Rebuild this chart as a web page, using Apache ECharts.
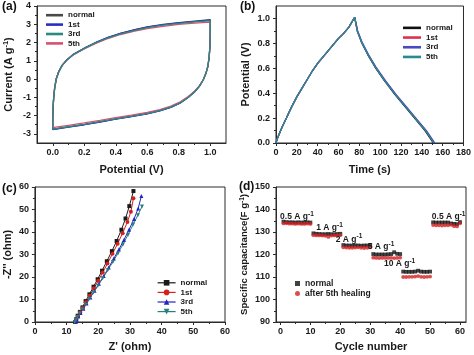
<!DOCTYPE html>
<html><head><meta charset="utf-8">
<script src="https://cdn.jsdelivr.net/npm/echarts@6/dist/echarts.min.js"></script>
<style>html,body{margin:0;padding:0;background:#fff}#c{width:474px;height:355px}</style>
</head><body><div id="c"></div><script>
// ---------- data ----------
const seriesNames = ['normal', '1st', '3rd', '5th'];
const healNames = ['normal', 'after 5th healing'];

// (a) cyclic voltammetry: [potential V, current A/g], anodic then cathodic sweep
const cvNormal = [[0,-2.76],[0,-2.2],[0.002,-1.6],[0.006,-1.0],[0.012,-0.5],[0.022,0.0],[0.038,0.4],[0.06,0.75],[0.09,1.05],[0.13,1.34],[0.2,1.68],[0.27,1.98],[0.35,2.27],[0.43,2.5],[0.52,2.7],[0.6,2.85],[0.7,2.99],[0.8,3.09],[0.9,3.17],[1.0,3.25],[1.0,2.5],[0.998,1.8],[0.993,1.2],[0.985,0.7],[0.972,0.3],[0.955,-0.05],[0.93,-0.4],[0.9,-0.7],[0.86,-1.0],[0.81,-1.3],[0.75,-1.54],[0.68,-1.73],[0.6,-1.89],[0.5,-2.04],[0.4,-2.18],[0.3,-2.34],[0.2,-2.49],[0.1,-2.62],[0.03,-2.71],[0,-2.76]];
const cv1st = [[0,-2.77],[0,-2.2],[0.002,-1.6],[0.006,-1.0],[0.012,-0.5],[0.022,0.0],[0.038,0.41],[0.06,0.76],[0.09,1.06],[0.13,1.35],[0.2,1.69],[0.27,1.99],[0.35,2.28],[0.43,2.5],[0.52,2.69],[0.6,2.84],[0.7,2.97],[0.8,3.07],[0.9,3.15],[1.0,3.22],[1.0,2.5],[0.998,1.8],[0.993,1.2],[0.985,0.7],[0.972,0.3],[0.955,-0.05],[0.93,-0.41],[0.9,-0.71],[0.86,-1.01],[0.81,-1.31],[0.75,-1.55],[0.68,-1.74],[0.6,-1.9],[0.5,-2.05],[0.4,-2.19],[0.3,-2.35],[0.2,-2.5],[0.1,-2.63],[0.03,-2.72],[0,-2.77]];
const cv3rd = [[0,-2.75],[0,-2.2],[0.002,-1.6],[0.006,-1.0],[0.012,-0.5],[0.022,0.0],[0.038,0.4],[0.06,0.75],[0.09,1.05],[0.13,1.34],[0.2,1.68],[0.27,1.98],[0.35,2.26],[0.43,2.48],[0.52,2.67],[0.6,2.82],[0.7,2.95],[0.8,3.05],[0.9,3.13],[1.0,3.2],[1.0,2.5],[0.998,1.8],[0.993,1.2],[0.985,0.7],[0.972,0.3],[0.955,-0.05],[0.93,-0.4],[0.9,-0.7],[0.86,-1.0],[0.81,-1.3],[0.75,-1.54],[0.68,-1.73],[0.6,-1.89],[0.5,-2.04],[0.4,-2.18],[0.3,-2.33],[0.2,-2.48],[0.1,-2.61],[0.03,-2.7],[0,-2.75]];
const cv5th = [[0,-2.66],[0,-2.15],[0.002,-1.58],[0.006,-1.0],[0.012,-0.5],[0.022,0.0],[0.038,0.4],[0.06,0.74],[0.09,1.04],[0.13,1.32],[0.2,1.65],[0.27,1.94],[0.35,2.22],[0.43,2.44],[0.52,2.62],[0.6,2.76],[0.7,2.89],[0.8,2.99],[0.9,3.06],[1.0,3.12],[1.0,2.45],[0.998,1.78],[0.993,1.18],[0.985,0.69],[0.972,0.3],[0.955,-0.04],[0.93,-0.38],[0.9,-0.67],[0.86,-0.96],[0.81,-1.25],[0.75,-1.48],[0.68,-1.67],[0.6,-1.82],[0.5,-1.97],[0.4,-2.11],[0.3,-2.26],[0.2,-2.4],[0.1,-2.53],[0.03,-2.62],[0,-2.66]];

// (b) galvanostatic charge/discharge: [time s, potential V]
const gcdNormal = [[0,0],[1,0.03],[3,0.07],[6,0.13],[10,0.2],[15,0.29],[20,0.37],[25,0.44],[30,0.51],[35,0.58],[40,0.64],[45,0.69],[50,0.74],[55,0.79],[60,0.84],[65,0.88],[70,0.93],[75.5,1.01],[76,1.01],[76.6,0.96],[78,0.9],[80,0.855],[82,0.81],[88,0.71],[95,0.61],[104,0.5],[114,0.39],[124,0.29],[134,0.19],[143,0.1],[151,0.0]];
const gcd1st = [[0,0],[1,0.03],[3,0.07],[6,0.13],[10,0.2],[15,0.29],[20,0.37],[25,0.44],[30,0.51],[35,0.58],[40,0.64],[45,0.69],[50,0.74],[55,0.79],[60,0.84],[65,0.88],[70,0.93],[75.5,1.01],[76,1.01],[76.7,0.96],[78.2,0.9],[80.2,0.855],[82.3,0.81],[88.4,0.71],[95.5,0.61],[104.6,0.5],[114.7,0.39],[124.8,0.29],[134.8,0.19],[143.9,0.1],[152,0.0]];
const gcd3rd = [[0,0],[1,0.03],[3,0.07],[6,0.13],[10,0.2],[15,0.29],[20,0.37],[25,0.44],[30,0.51],[35,0.58],[40,0.64],[45,0.69],[50,0.74],[55,0.79],[60,0.84],[65,0.88],[70,0.93],[75.5,1.01],[76.2,1.01],[76.9,0.96],[78.4,0.9],[80.5,0.855],[82.6,0.81],[88.8,0.71],[96,0.61],[105.1,0.5],[115.2,0.39],[125.3,0.29],[135.3,0.19],[144.4,0.1],[152.5,0.0]];
const gcd5th = [[0,0],[1,0.03],[3,0.07],[6,0.13],[10,0.2],[15,0.29],[20,0.37],[25,0.44],[30,0.51],[35,0.58],[40,0.64],[45,0.69],[50,0.74],[55,0.79],[60,0.84],[65,0.88],[70,0.93],[75.5,1.01],[76,1.01],[76.6,0.96],[78.1,0.9],[80.1,0.855],[82.1,0.81],[88.2,0.71],[95.3,0.61],[104.3,0.5],[114.4,0.39],[124.4,0.29],[134.4,0.19],[143.5,0.1],[151.5,0.0]];

// (c) Nyquist plot: [Z' ohm, -Z'' ohm]
const eisNormal = [[12.7,0],[13.0,1.2],[13.5,2.8],[14.2,4.5],[15.0,6.5],[16.0,9.3],[17.2,12.3],[18.5,15.7],[19.8,19],[21.2,22.8],[22.7,27],[24.3,31.5],[25.8,36],[27.3,41],[28.6,46],[29.8,51.5],[31.1,58.2]];
const eis1st = [[12.8,0],[13.1,1.1],[13.6,2.6],[14.3,4.3],[15.1,6.2],[16.1,8.8],[17.3,11.7],[18.6,15],[20.0,18.3],[21.4,22],[22.9,26],[24.5,30.3],[26.1,34.8],[27.7,39.5],[29.2,44.5],[30.3,49],[31.1,55]];
const eis3rd = [[12.9,0],[13.2,1],[13.7,2.4],[14.4,4],[15.3,5.9],[16.3,8.2],[17.5,10.9],[18.8,13.9],[20.2,17],[21.7,20.4],[23.3,24.2],[24.9,28.2],[26.5,32.2],[28.1,36.5],[29.7,41],[31.3,45.8],[32.6,50.5],[33.6,56]];
const eis5th = [[12.6,0],[12.9,0.9],[13.4,2.2],[14.1,3.8],[15.0,5.6],[16.0,7.8],[17.2,10.3],[18.5,13.1],[19.9,16.1],[21.4,19.4],[23.0,23],[24.6,26.7],[26.2,30.5],[27.8,34.5],[29.4,38.8],[31.0,43.3],[32.5,47.5],[33.8,51.3]];

// (d) rate capability
const cycles = [1,2,3,4,5,6,7,8,9,10,11,12,13,14,15,16,17,18,19,20,21,22,23,24,25,26,27,28,29,30,31,32,33,34,35,36,37,38,39,40,41,42,43,44,45,46,47,48,49,50,51,52,53,54,55,56,57,58,59,60];
const capNormal = [134.6,134.4,134.3,134.3,134.2,134.3,134.2,134.2,134.3,134.2,
  129.4,129.2,129.1,129.0,129.0,129.1,129.0,129.0,129.1,129.2,
  124.2,124.0,124.0,123.9,124.0,124.0,123.9,124.0,124.0,124.1,
  120.2,120.0,120.0,120.0,120.0,120.1,120.2,121.0,120.3,120.2,
  112.4,112.3,112.3,112.3,112.4,112.8,112.4,112.3,112.3,112.4,
  134.3,134.2,134.2,134.2,134.2,134.2,133.8,133.6,133.5,134.4];
const capHealed = [133.8,133.9,133.7,133.7,133.6,133.7,133.6,133.6,133.7,133.6,
  128.6,128.5,128.5,128.4,128.3,127.8,128.4,128.5,128.5,128.6,
  123.2,123.1,123.0,123.0,123.1,123.2,123.0,122.9,123.0,123.2,
  118.6,118.5,118.4,118.5,118.5,118.5,118.5,118.4,118.5,118.6,
  110.0,110.0,110.1,110.1,110.2,110.4,110.1,110.0,110.1,110.2,
  133.1,133.0,133.0,132.9,133.0,133.0,133.2,132.6,132.5,133.8];
const rateLabels = ['0.5', '1', '2', '5', '10', '0.5'];

// tick labels
const ticksAx = [0, 0.2, 0.4, 0.6, 0.8, 1.0];
const ticksAy = [-3, -2, -1, 0, 1, 2, 3, 4];
const ticksBx = [0, 20, 40, 60, 80, 100, 120, 140, 160, 180];
const ticksBy = [0, 0.2, 0.4, 0.6, 0.8, 1.0];
const ticksC = [0, 10, 20, 30, 40, 50, 60];
const ticksDx = [0, 10, 20, 30, 40, 50, 60];
const ticksDy = [90, 100, 110, 120, 130, 140, 150];
const minorAx = [0.1, 0.3, 0.5, 0.7, 0.9];
const minorAy = [-2.5, -1.5, -0.5, 0.5, 1.5, 2.5, 3.5];
const minorBx = [10, 30, 50, 70, 90, 110, 130, 150, 170];
const minorBy = [0.1, 0.3, 0.5, 0.7, 0.9];
const minorC = [5, 15, 25, 35, 45, 55];
const minorDy = [95, 105, 115, 125, 135, 145];

// ---------- styling / layout ----------
const FF = '"Liberation Sans", Arial, sans-serif';
const AX = '#2b2b2b';
const TXT = '#1a1a1a';

function mkAxes(dim, gi, min, max, major, minor, fmt, name, gap, nameSize) {
  const pos = dim === 'x' ? 'bottom' : 'left';
  const ns = nameSize || 11;
  const main = {
    type: 'value', gridIndex: gi, position: pos, min: min, max: max,
    axisLine: {show: true, onZero: false, lineStyle: {color: AX, width: 1}},
    axisTick: {show: true, inside: false, length: 3, customValues: major, lineStyle: {color: AX, width: 1}},
    axisLabel: {show: true, customValues: major, formatter: fmt, fontFamily: FF, fontSize: 9, fontWeight: 'bold', color: TXT, margin: dim === 'x' ? 5 : 6},
    splitLine: {show: false},
    name: name, nameLocation: 'middle', nameGap: gap,
    nameTextStyle: {fontFamily: FF, fontSize: ns, fontWeight: 'bold', color: TXT, lineHeight: ns + 3,
      rich: {sup: {fontFamily: FF, fontSize: ns * 0.68, fontWeight: 'bold', color: TXT, verticalAlign: 'top', lineHeight: ns * 0.7}}}
  };
  const mn = {
    type: 'value', gridIndex: gi, position: pos, min: min, max: max,
    axisLine: {show: false, onZero: false},
    axisTick: {show: true, inside: false, length: 2, customValues: minor, lineStyle: {color: AX, width: 1}},
    axisLabel: {show: false}, splitLine: {show: false}
  };
  return [main, mn];
}
const f1 = v => Number(v).toFixed(1);
const f0 = v => String(Math.round(v));

const colA = ['#4a4a4a', '#2c2cc4', '#2a8a80', '#d8506e'];
const colB = ['#111111', '#e0304e', '#4a4ac0', '#2a8a92'];
const colC = ['#1a1a1a', '#d42020', '#2424c4', '#2a8078'];
const colD = ['#111111', '#d42020'];

const cvData = [cvNormal, cv1st, cv3rd, cv5th];
const gcdData = [gcdNormal, gcd1st, gcd3rd, gcd5th];
const eisData = [eisNormal, eis1st, eis3rd, eis5th];
const eisSym = ['rect', 'circle', 'triangle', 'triangle'];
const eisRot = [0, 0, 0, 180];

const series = [];
const orderA = [0, 1, 3, 2];
orderA.forEach(i => series.push({
  type: 'line', name: 'a|' + seriesNames[i], xAxisIndex: 0, yAxisIndex: 0,
  data: cvData[i], symbol: 'none', showSymbol: false, smooth: false,
  lineStyle: {width: 1.3, color: colA[i]}, itemStyle: {color: colA[i]}
}));
[0, 1, 2, 3].forEach(i => series.push({
  type: 'line', name: 'b|' + seriesNames[i], xAxisIndex: 2, yAxisIndex: 2,
  data: gcdData[i], symbol: 'none', showSymbol: false, smooth: false,
  lineStyle: {width: 1.3, color: colB[i]}, itemStyle: {color: colB[i]}
}));
[0, 1, 2, 3].forEach(i => series.push({
  type: 'line', name: 'c|' + seriesNames[i], xAxisIndex: 4, yAxisIndex: 4,
  data: eisData[i], symbol: eisSym[i], symbolRotate: eisRot[i], symbolSize: 4, showSymbol: true,
  lineStyle: {width: 1, color: colC[i]}, itemStyle: {color: colC[i]}
}));
series.push({
  type: 'scatter', name: 'd|' + healNames[0], xAxisIndex: 6, yAxisIndex: 6,
  data: cycles.map((c, i) => [c, capNormal[i]]), symbol: 'rect', symbolSize: 3.8,
  itemStyle: {color: colD[0]},
  markPoint: {
    symbol: 'circle', symbolSize: 0, silent: true,
    label: {show: true, position: 'inside', color: TXT,
      formatter: p => '{t|' + p.name + ' A g}{s|-1}',
      rich: {t: {fontFamily: FF, fontSize: 8.5, fontWeight: 'bold', color: TXT, lineHeight: 12},
             s: {fontFamily: FF, fontSize: 6.5, fontWeight: 'bold', color: TXT, lineHeight: 7, verticalAlign: 'top'}}},
    data: [
      {name: rateLabels[0], coord: [5.5, 136.8]},
      {name: rateLabels[1], coord: [16.4, 131.9]},
      {name: rateLabels[2], coord: [22.9, 126.8]},
      {name: rateLabels[3], coord: [33.6, 123.6]},
      {name: rateLabels[4], coord: [39.8, 115.9]},
      {name: rateLabels[5], coord: [56.2, 136.8]}
    ]
  }
});
series.push({
  type: 'scatter', name: 'd|' + healNames[1], xAxisIndex: 6, yAxisIndex: 6,
  data: cycles.map((c, i) => [c, capHealed[i]]), symbol: 'circle', symbolSize: 3.8,
  itemStyle: {color: colD[1]}
});

const legText = {fontFamily: FF, fontSize: 8, fontWeight: 'bold', color: TXT, lineHeight: 9.4};
const legendBase = {
  orient: 'vertical', padding: 0, itemGap: 0, selectedMode: false,
  formatter: n => n.split('|')[1], textStyle: legText
};

const option = {
  animation: false,
  backgroundColor: '#fff',
  grid: [
    {left: 37, top: 6, width: 189, height: 137, show: true, borderColor: AX, borderWidth: 1, backgroundColor: 'transparent'},
    {left: 276, top: 6, width: 190, height: 137, show: true, borderColor: AX, borderWidth: 1, backgroundColor: 'transparent'},
    {left: 34, top: 187, width: 191, height: 137, show: true, borderColor: AX, borderWidth: 1, backgroundColor: 'transparent'},
    {left: 276, top: 187, width: 190, height: 137, show: true, borderColor: AX, borderWidth: 1, backgroundColor: 'transparent'}
  ],
  xAxis: [].concat(
    mkAxes('x', 0, -0.1, 1.1, ticksAx, minorAx, f1, 'Potential (V)', 20),
    mkAxes('x', 1, 0, 180, ticksBx, minorBx, f0, 'Time (s)', 20),
    mkAxes('x', 2, 0, 60, ticksC, minorC, f0, "Z' (ohm)", 18),
    mkAxes('x', 3, -1.5, 62, ticksDx, minorC, f0, 'Cycle number', 18)
  ),
  yAxis: [].concat(
    mkAxes('y', 0, -3.5, 4, ticksAy, minorAy, f0, 'Current (A g{sup|-1})', 21),
    mkAxes('y', 1, 0, 1.1, ticksBy, minorBy, f1, 'Potential (V)', 23),
    mkAxes('y', 2, 0, 60, ticksC, minorC, f0, "-Z'' (ohm)", 19),
    mkAxes('y', 3, 90, 150, ticksDy, minorDy, f0, 'Specific capacitance(F g{sup|-1})', 22, 9.6)
  ),
  legend: [
    Object.assign({}, legendBase, {data: seriesNames.map(n => ({name: 'a|' + n, icon: 'rect'})), left: 46, top: 10.5, itemWidth: 17, itemHeight: 2.6}),
    Object.assign({}, legendBase, {data: seriesNames.map(n => ({name: 'b|' + n, icon: 'rect'})), left: 403, top: 23, itemWidth: 18, itemHeight: 2.6,
      textStyle: Object.assign({}, legText, {lineHeight: 9.7})}),
    Object.assign({}, legendBase, {data: seriesNames.map(n => 'c|' + n), left: 157, top: 278, itemWidth: 18, itemHeight: 7, lineStyle: {width: 1.2},
      textStyle: Object.assign({}, legText, {lineHeight: 9.6})}),
    Object.assign({}, legendBase, {data: healNames.map(n => 'd|' + n), left: 295, top: 278.5, itemWidth: 5, itemHeight: 5, itemGap: 0,
      textStyle: {fontFamily: FF, fontSize: 8.5, fontWeight: 'bold', color: TXT, lineHeight: 10}})
  ],
  graphic: [
    {type: 'text', left: 2, top: 1, style: {text: '(a)', font: 'bold 12px "Liberation Sans", Arial', fill: '#111'}},
    {type: 'text', left: 240, top: 1, style: {text: '(b)', font: 'bold 12px "Liberation Sans", Arial', fill: '#111'}},
    {type: 'text', left: 2, top: 183, style: {text: '(c)', font: 'bold 12px "Liberation Sans", Arial', fill: '#111'}},
    {type: 'text', left: 239, top: 181, style: {text: '(d)', font: 'bold 12px "Liberation Sans", Arial', fill: '#111'}}
  ],
  series: series
};

const chart = echarts.init(document.getElementById('c'), null, {renderer: 'canvas'});
chart.setOption(option);
</script></body></html>
